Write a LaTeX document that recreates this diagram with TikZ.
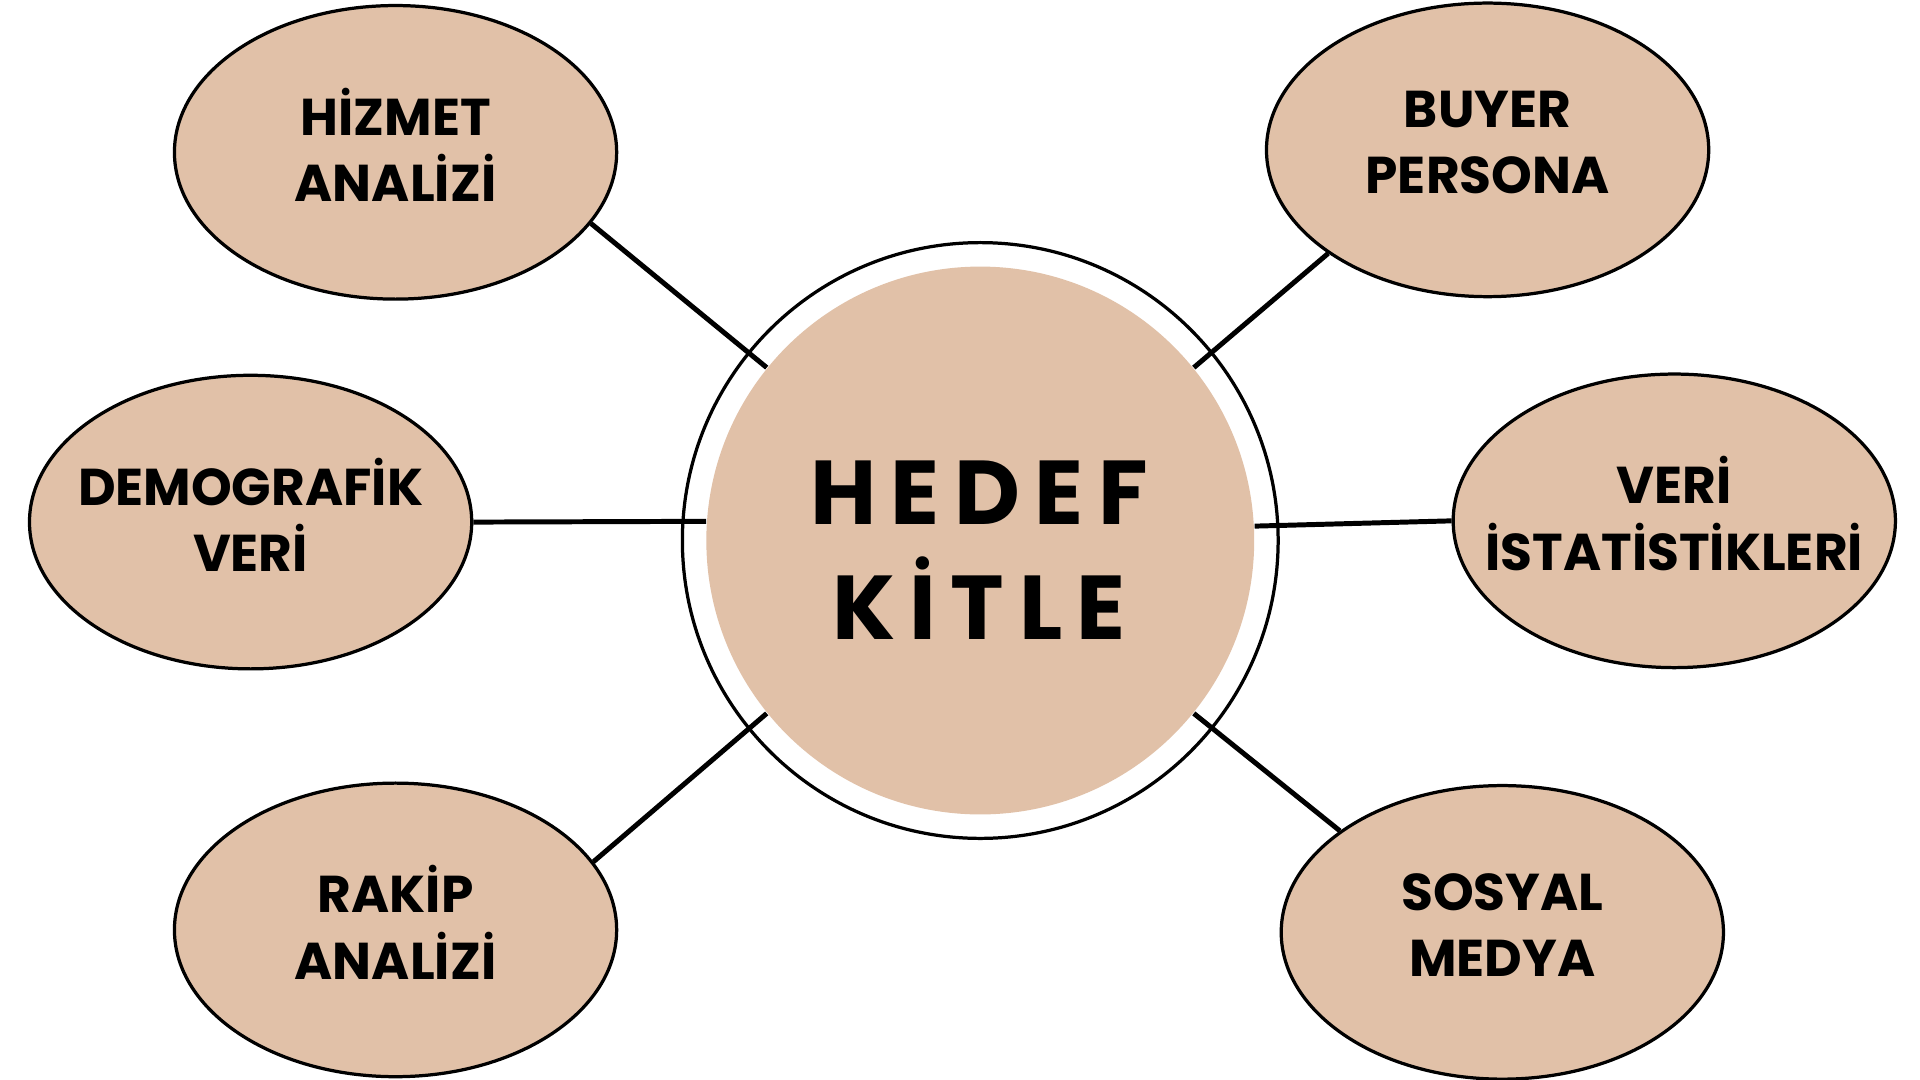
\documentclass[tikz,border=0pt]{standalone}
\usepackage{fontspec}
\setmainfont{Poppins}
\usetikzlibrary{shapes.geometric}
\definecolor{kum}{HTML}{E1C1A8}
\tikzset{
  yazi/.style={align=center, yshift=0.6mm, font=\bfseries\fontsize{12}{15.4}\selectfont},
  konu/.style={ellipse, draw, line width=0.75pt, fill=kum, minimum width=3.6cm,
    minimum height=2.39cm, inner sep=0pt, label={[yazi]center:#1}},
  bag/.style={line width=1.15pt}
}
\begin{document}
\begin{tikzpicture}
        \useasboundingbox[fill=white] (0,0) rectangle (15.63,8.79);
        % merkez
        \node[circle, draw, line width=0.75pt, minimum size=4.85cm, inner sep=0pt] (halka) at (7.98,4.39) {};
        \node[circle, fill=kum, minimum size=4.46cm, inner sep=0pt] (hedef) at (7.98,4.39) {};
        \node[align=center, font=\bfseries\fontsize{21}{26.7}\selectfont\addfontfeatures{LetterSpace=16}] (baslik) at (7.97,4.31) {HEDEF\\KİTLE};
        % konular
        \node[konu={HİZMET\\ANALİZİ}] (hizmet) at (3.22,7.55) {};
        \node[konu={DEMOGRAFİK\\VERİ}] (demografik) at (2.04,4.54) {};
        \node[konu={RAKİP\\ANALİZİ}] (rakip) at (3.22,1.22) {};
        \node[konu={BUYER\\PERSONA}] (buyer) at (12.11,7.57) {};
        \node[konu={VERİ\\İSTATİSTİKLERİ}] (veri) at (13.63,4.55) {};
        \node[konu={SOSYAL\\MEDYA}] (sosyal) at (12.23,1.20) {};
        % baglantilar
        \draw[bag] (hizmet.-20.7) -- (hedef.141);
        \draw[bag] (demografik.0) -- (hedef.176);
        \draw[bag] (rakip.19.7) -- (hedef.219.6);
        \draw[bag] (buyer.213.6) -- (hedef.39.4);
        \draw[bag] (veri.180) -- (hedef.3.9);
        \draw[bag] (sosyal.148.3) -- (hedef.-39.4);
\end{tikzpicture}
\end{document}
